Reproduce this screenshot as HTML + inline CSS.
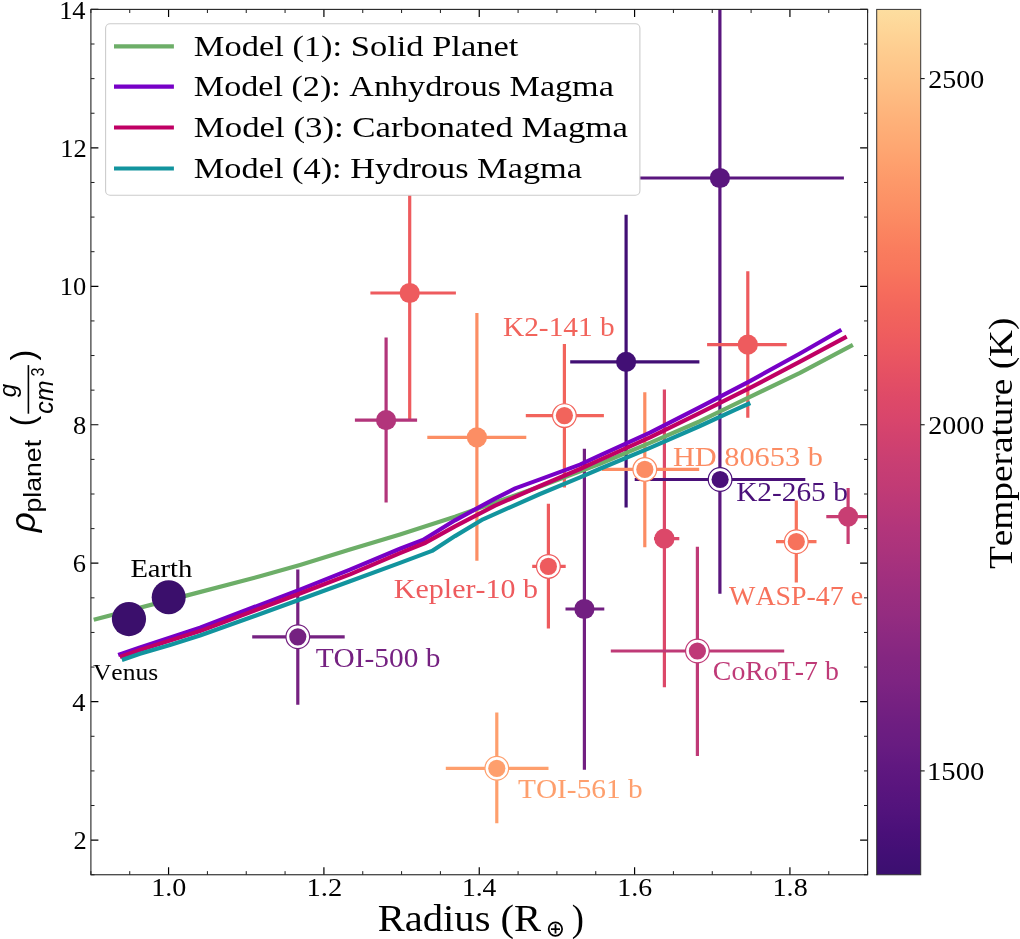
<!DOCTYPE html>
<html><head><meta charset="utf-8"><style>html,body{margin:0;padding:0;background:#fff;} text{font-kerning:none;}</style></head>
<body>
<svg width="1020" height="939" viewBox="0 0 1020 939" style="display:block;will-change:transform">
<rect width="1020" height="939" fill="#fff"/>
<defs><clipPath id="ax"><rect x="90.9" y="9.4" width="776.7" height="865.35"/></clipPath>
<linearGradient id="cb" x1="0" y1="0" x2="0" y2="1"><stop offset="0.0000" stop-color="#fddea0"/><stop offset="0.0250" stop-color="#fed597"/><stop offset="0.0500" stop-color="#fecc8f"/><stop offset="0.0750" stop-color="#fec488"/><stop offset="0.1000" stop-color="#febb81"/><stop offset="0.1250" stop-color="#feb27a"/><stop offset="0.1500" stop-color="#feaa74"/><stop offset="0.1750" stop-color="#fea16e"/><stop offset="0.2000" stop-color="#fd9869"/><stop offset="0.2250" stop-color="#fc9065"/><stop offset="0.2500" stop-color="#fb8761"/><stop offset="0.2750" stop-color="#fa7d5e"/><stop offset="0.3000" stop-color="#f8765c"/><stop offset="0.3250" stop-color="#f66c5c"/><stop offset="0.3500" stop-color="#f2645c"/><stop offset="0.3750" stop-color="#ef5d5e"/><stop offset="0.4000" stop-color="#ea5661"/><stop offset="0.4250" stop-color="#e44f64"/><stop offset="0.4500" stop-color="#de4968"/><stop offset="0.4750" stop-color="#d8456c"/><stop offset="0.5000" stop-color="#d0416f"/><stop offset="0.5250" stop-color="#c83e73"/><stop offset="0.5500" stop-color="#c23b75"/><stop offset="0.5750" stop-color="#ba3878"/><stop offset="0.6000" stop-color="#b2357b"/><stop offset="0.6250" stop-color="#ab337c"/><stop offset="0.6500" stop-color="#a3307e"/><stop offset="0.6750" stop-color="#9b2e7f"/><stop offset="0.7000" stop-color="#942c80"/><stop offset="0.7250" stop-color="#8c2981"/><stop offset="0.7500" stop-color="#842681"/><stop offset="0.7750" stop-color="#7e2482"/><stop offset="0.8000" stop-color="#762181"/><stop offset="0.8250" stop-color="#6e1e81"/><stop offset="0.8500" stop-color="#681c81"/><stop offset="0.8750" stop-color="#601880"/><stop offset="0.9000" stop-color="#59157e"/><stop offset="0.9250" stop-color="#52137c"/><stop offset="0.9500" stop-color="#4a1079"/><stop offset="0.9750" stop-color="#420f75"/><stop offset="1.0000" stop-color="#3b0f70"/></linearGradient></defs>
<g clip-path="url(#ax)" stroke-linecap="butt">
<path d="M370.4 293.0H455.9M409.7 150.0V419.6" stroke="#ee5b5e" stroke-width="3.2" fill="none"/>
<path d="M354.9 420.2H417.1M386.1 337.6V502.4" stroke="#b2357b" stroke-width="3.2" fill="none"/>
<path d="M427.3 437.3H526.3M476.9 312.9V560.7" stroke="#fc8e64" stroke-width="3.2" fill="none"/>
<path d="M570.2 361.8H699.4M626.1 214.7V507.6" stroke="#420f75" stroke-width="3.2" fill="none"/>
<path d="M600.0 178.0H843.9M719.9 0.0V593.8" stroke="#5a167e" stroke-width="3.2" fill="none"/>
<path d="M707.1 344.7H786.7M747.8 271.3V417.8" stroke="#ee5b5e" stroke-width="3.2" fill="none"/>
<path d="M826.3 516.6H880.0M848.1 488.1V544.0" stroke="#c83e73" stroke-width="3.2" fill="none"/>
<path d="M654.0 538.7H679.3M664.4 389.4V687.2" stroke="#dc4869" stroke-width="3.2" fill="none"/>
<path d="M565.5 609.0H604.3M584.4 448.7V769.8" stroke="#721f81" stroke-width="3.2" fill="none"/>
<path d="M252.2 636.8H344.7M297.8 569.4V704.7" stroke="#752181" stroke-width="3.2" fill="none"/>
<path d="M525.8 415.6H603.9M564.4 344.1V487.5" stroke="#f2645c" stroke-width="3.2" fill="none"/>
<path d="M602.0 469.4H699.2M644.8 392.2V547.2" stroke="#fc8c63" stroke-width="3.2" fill="none"/>
<path d="M634.7 479.5H805.3M720.1 470.0V489.0" stroke="#4a1079" stroke-width="3.2" fill="none"/>
<path d="M776.0 541.7H816.5M796.3 500.6V582.4" stroke="#f7725c" stroke-width="3.2" fill="none"/>
<path d="M532.2 566.4H565.7M548.4 503.8V628.4" stroke="#ee5b5e" stroke-width="3.2" fill="none"/>
<path d="M610.8 651.0H784.2M697.4 546.7V756.0" stroke="#bf3a77" stroke-width="3.2" fill="none"/>
<path d="M445.8 768.3H548.5M496.8 712.4V823.3" stroke="#fe9f6d" stroke-width="3.2" fill="none"/>
<path d="M93.7 619.8 L186.3 595.6 L260.0 576.3 L300.0 564.9 L350.0 549.6 L400.0 534.4 L455.0 516.7 L540.0 486.6 L600.0 463.7 L650.0 442.9 L700.0 421.2 L750.0 396.9 L800.0 372.8 L852.9 344.8" stroke="#6dae68" stroke-width="4.2" fill="none" stroke-linejoin="round"/>
<path d="M118.2 655.1 L140.0 647.4 L200.0 627.7 L300.0 589.6 L350.0 569.6 L400.0 548.8 L422.9 540.0 L455.0 520.3 L495.0 498.6 L515.2 488.4 L540.0 479.4 L580.0 464.6 L600.0 455.4 L650.0 432.7 L700.0 407.1 L750.0 381.1 L800.0 353.5 L841.4 329.7" stroke="#7700c7" stroke-width="4.2" fill="none" stroke-linejoin="round"/>
<path d="M119.9 656.9 L140.0 650.0 L200.0 631.1 L300.0 593.5 L350.0 574.4 L400.0 553.1 L425.6 542.7 L455.0 526.3 L495.0 505.6 L540.0 486.0 L580.0 469.0 L600.0 459.9 L650.0 437.4 L700.0 412.8 L750.0 387.9 L800.0 361.7 L846.7 336.7" stroke="#c00064" stroke-width="4.2" fill="none" stroke-linejoin="round"/>
<path d="M121.9 659.9 L140.0 653.8 L170.0 644.9 L200.0 635.6 L300.0 599.6 L350.0 581.3 L400.0 562.9 L432.0 550.9 L455.0 536.1 L483.0 519.3 L540.0 494.0 L580.0 477.4 L600.0 468.8 L650.0 447.9 L700.0 426.0 L735.0 409.9 L750.3 403.0" stroke="#12949e" stroke-width="4.2" fill="none" stroke-linejoin="round"/>
<circle cx="409.7" cy="293.0" r="10.1" fill="#ee5b5e"/>
<circle cx="386.1" cy="420.2" r="10.1" fill="#b2357b"/>
<circle cx="476.9" cy="437.3" r="10.1" fill="#fc8e64"/>
<circle cx="626.1" cy="361.8" r="10.1" fill="#420f75"/>
<circle cx="719.9" cy="178.0" r="10.1" fill="#5a167e"/>
<circle cx="747.8" cy="344.7" r="10.1" fill="#ee5b5e"/>
<circle cx="848.1" cy="516.6" r="10.1" fill="#c83e73"/>
<circle cx="664.4" cy="538.7" r="10.1" fill="#dc4869"/>
<circle cx="584.4" cy="609.0" r="10.1" fill="#721f81"/>
<circle cx="297.8" cy="636.8" r="11.85" fill="#fff" stroke="#752181" stroke-width="1.2"/>
<circle cx="297.8" cy="636.8" r="8.6" fill="#752181"/>
<circle cx="564.4" cy="415.6" r="11.85" fill="#fff" stroke="#f2645c" stroke-width="1.2"/>
<circle cx="564.4" cy="415.6" r="8.6" fill="#f2645c"/>
<circle cx="644.8" cy="469.4" r="11.85" fill="#fff" stroke="#fc8c63" stroke-width="1.2"/>
<circle cx="644.8" cy="469.4" r="8.6" fill="#fc8c63"/>
<circle cx="720.1" cy="479.5" r="11.85" fill="#fff" stroke="#4a1079" stroke-width="1.2"/>
<circle cx="720.1" cy="479.5" r="8.6" fill="#4a1079"/>
<circle cx="796.3" cy="541.7" r="11.85" fill="#fff" stroke="#f7725c" stroke-width="1.2"/>
<circle cx="796.3" cy="541.7" r="8.6" fill="#f7725c"/>
<circle cx="548.4" cy="566.4" r="11.85" fill="#fff" stroke="#ee5b5e" stroke-width="1.2"/>
<circle cx="548.4" cy="566.4" r="8.6" fill="#ee5b5e"/>
<circle cx="697.4" cy="651.0" r="11.85" fill="#fff" stroke="#bf3a77" stroke-width="1.2"/>
<circle cx="697.4" cy="651.0" r="8.6" fill="#bf3a77"/>
<circle cx="496.8" cy="768.3" r="11.85" fill="#fff" stroke="#fe9f6d" stroke-width="1.2"/>
<circle cx="496.8" cy="768.3" r="8.6" fill="#fe9f6d"/>
<circle cx="128.95" cy="619.05" r="17.1" fill="#3b0f6c"/>
<circle cx="168.7" cy="597.3" r="17.0" fill="#3b0f6c"/>
</g>
<text transform="translate(130.38,577.30) scale(1.1644,1)" font-family="Liberation Serif" font-size="24.59" fill="#000">Earth</text>
<text transform="translate(92.91,680.40) scale(1.0728,1)" font-family="Liberation Serif" font-size="23.82" fill="#000">Venus</text>
<text transform="translate(315.67,666.80) scale(1.0985,1)" font-family="Liberation Serif" font-size="26.73" fill="#752181">TOI-500 b</text>
<text transform="translate(502.95,335.50) scale(1.0990,1)" font-family="Liberation Serif" font-size="26.73" fill="#f2645c">K2-141 b</text>
<text transform="translate(672.93,466.10) scale(1.1346,1)" font-family="Liberation Serif" font-size="26.73" fill="#fc8c63">HD 80653 b</text>
<text transform="translate(736.15,500.80) scale(1.0980,1)" font-family="Liberation Serif" font-size="26.73" fill="#4a1079">K2-265 b</text>
<text transform="translate(729.07,604.50) scale(1.0442,1)" font-family="Liberation Serif" font-size="26.73" fill="#f7725c">WASP-47 e</text>
<text transform="translate(712.86,680.30) scale(1.0529,1)" font-family="Liberation Serif" font-size="26.43" fill="#bf3a77">CoRoT-7 b</text>
<text transform="translate(517.97,798.30) scale(1.0985,1)" font-family="Liberation Serif" font-size="26.73" fill="#fe9f6d">TOI-561 b</text>
<text transform="translate(393.73,597.80) scale(1.1248,1)" font-family="Liberation Serif" font-size="26.73" fill="#ee5b5e">Kepler-10 b</text>
<rect x="105.6" y="23.8" width="534.3" height="171.4" rx="4.5" fill="#fff" stroke="#cccccc" stroke-width="1.1"/>
<path d="M114 46.3H173.9" stroke="#6dae68" stroke-width="4.2"/>
<text transform="translate(193.81,55.70) scale(1.1343,1)" font-family="Liberation Serif" font-size="30.39" fill="#000">Model (1): Solid Planet</text>
<path d="M114 86.7H173.9" stroke="#7700c7" stroke-width="4.2"/>
<text transform="translate(193.82,96.20) scale(1.1236,1)" font-family="Liberation Serif" font-size="30.39" fill="#000">Model (2): Anhydrous Magma</text>
<path d="M114 127.5H173.9" stroke="#c00064" stroke-width="4.2"/>
<text transform="translate(193.80,137.00) scale(1.1458,1)" font-family="Liberation Serif" font-size="30.39" fill="#000">Model (3): Carbonated Magma</text>
<path d="M114 168.5H173.9" stroke="#12949e" stroke-width="4.2"/>
<text transform="translate(193.81,178.00) scale(1.1305,1)" font-family="Liberation Serif" font-size="30.39" fill="#000">Model (4): Hydrous Magma</text>
<path d="M90.9 840.14h7.5M867.6 840.14h-7.5M90.9 701.68h7.5M867.6 701.68h-7.5M90.9 563.22h7.5M867.6 563.22h-7.5M90.9 424.77h7.5M867.6 424.77h-7.5M90.9 286.31h7.5M867.6 286.31h-7.5M90.9 147.86h7.5M867.6 147.86h-7.5M90.9 9.40h7.5M867.6 9.40h-7.5M168.57 874.75v-7.5M168.57 9.4v7.5M323.91 874.75v-7.5M323.91 9.4v7.5M479.25 874.75v-7.5M479.25 9.4v7.5M634.59 874.75v-7.5M634.59 9.4v7.5M789.93 874.75v-7.5M789.93 9.4v7.5" stroke="#000" stroke-width="1.2" fill="none"/>
<path d="M90.9 874.75h3.6M867.6 874.75h-3.6M90.9 805.52h3.6M867.6 805.52h-3.6M90.9 770.91h3.6M867.6 770.91h-3.6M90.9 736.29h3.6M867.6 736.29h-3.6M90.9 667.07h3.6M867.6 667.07h-3.6M90.9 632.45h3.6M867.6 632.45h-3.6M90.9 597.84h3.6M867.6 597.84h-3.6M90.9 528.61h3.6M867.6 528.61h-3.6M90.9 494.00h3.6M867.6 494.00h-3.6M90.9 459.38h3.6M867.6 459.38h-3.6M90.9 390.15h3.6M867.6 390.15h-3.6M90.9 355.54h3.6M867.6 355.54h-3.6M90.9 320.93h3.6M867.6 320.93h-3.6M90.9 251.70h3.6M867.6 251.70h-3.6M90.9 217.08h3.6M867.6 217.08h-3.6M90.9 182.47h3.6M867.6 182.47h-3.6M90.9 113.24h3.6M867.6 113.24h-3.6M90.9 78.63h3.6M867.6 78.63h-3.6M90.9 44.01h3.6M867.6 44.01h-3.6M90.90 874.75v-3.6M90.90 9.4v3.6M129.74 874.75v-3.6M129.74 9.4v3.6M207.41 874.75v-3.6M207.41 9.4v3.6M246.24 874.75v-3.6M246.24 9.4v3.6M285.07 874.75v-3.6M285.07 9.4v3.6M362.75 874.75v-3.6M362.75 9.4v3.6M401.58 874.75v-3.6M401.58 9.4v3.6M440.42 874.75v-3.6M440.42 9.4v3.6M518.09 874.75v-3.6M518.09 9.4v3.6M556.92 874.75v-3.6M556.92 9.4v3.6M595.76 874.75v-3.6M595.76 9.4v3.6M673.42 874.75v-3.6M673.42 9.4v3.6M712.26 874.75v-3.6M712.26 9.4v3.6M751.10 874.75v-3.6M751.10 9.4v3.6M828.77 874.75v-3.6M828.77 9.4v3.6M867.60 874.75v-3.6M867.60 9.4v3.6" stroke="#000" stroke-width="0.9" fill="none"/>
<rect x="90.9" y="9.4" width="776.70" height="865.35" fill="none" stroke="#222" stroke-width="1.1"/>
<text transform="translate(73.42,849.24) scale(1.0300,1)" font-family="Liberation Serif" font-size="25.71" fill="#000">2</text>
<text transform="translate(72.37,710.78) scale(1.0300,1)" font-family="Liberation Serif" font-size="25.71" fill="#000">4</text>
<text transform="translate(72.75,572.32) scale(1.0300,1)" font-family="Liberation Serif" font-size="25.71" fill="#000">6</text>
<text transform="translate(72.97,433.87) scale(1.0300,1)" font-family="Liberation Serif" font-size="25.71" fill="#000">8</text>
<text transform="translate(59.72,295.41) scale(1.0300,1)" font-family="Liberation Serif" font-size="25.71" fill="#000">10</text>
<text transform="translate(60.18,156.96) scale(1.0300,1)" font-family="Liberation Serif" font-size="25.71" fill="#000">12</text>
<text transform="translate(59.13,18.50) scale(1.0300,1)" font-family="Liberation Serif" font-size="25.71" fill="#000">14</text>
<text transform="translate(151.20,895.90) scale(1.0934,1)" font-family="Liberation Serif" font-size="25.71" fill="#000">1.0</text>
<text transform="translate(306.50,895.90) scale(1.1102,1)" font-family="Liberation Serif" font-size="25.71" fill="#000">1.2</text>
<text transform="translate(461.93,895.90) scale(1.0719,1)" font-family="Liberation Serif" font-size="25.71" fill="#000">1.4</text>
<text transform="translate(617.24,895.90) scale(1.0853,1)" font-family="Liberation Serif" font-size="25.71" fill="#000">1.6</text>
<text transform="translate(772.56,895.90) scale(1.0934,1)" font-family="Liberation Serif" font-size="25.71" fill="#000">1.8</text>
<rect x="876.7" y="9.4" width="44.0" height="865.35" fill="url(#cb)" stroke="#333" stroke-width="1"/>
<text transform="translate(926.98,779.91) scale(1.1144,1)" font-family="Liberation Serif" font-size="25.71" fill="#000">1500</text>
<text transform="translate(928.27,433.77) scale(1.0889,1)" font-family="Liberation Serif" font-size="25.71" fill="#000">2000</text>
<text transform="translate(928.27,87.63) scale(1.0889,1)" font-family="Liberation Serif" font-size="25.71" fill="#000">2500</text>
<path d="M920.7 770.91h4M920.7 424.77h4M920.7 78.63h4" stroke="#000" stroke-width="1" fill="none"/>
<text transform="translate(1011.50,568.97) rotate(-90) scale(1.1198,1)" font-family="Liberation Serif" font-size="33.29" fill="#000">Temperature (K)</text>
<text transform="translate(377.63,931.20) scale(1.0769,1)" font-family="Liberation Serif" font-size="37.72" fill="#000">Radius (R</text>
<g stroke="#000" fill="none"><circle cx="555.4" cy="929.1" r="6.75" stroke-width="1.7"/><path d="M551 929.1H560M555.5 924.2V933.6" stroke-width="1.8"/></g>
<text transform="translate(571.82,931.20) scale(0.9702,1)" font-family="Liberation Serif" font-size="37.72" fill="#000">)</text>
<text transform="translate(35.02,532.24) rotate(-90) scale(1.0153,1)" font-family="Liberation Sans" font-style="italic" font-size="34.60" fill="#000">ρ</text>
<text transform="translate(40.74,512.62) rotate(-90) scale(1.1171,1)" font-family="Liberation Sans" font-size="23.92" fill="#000">planet</text>
<text transform="translate(33.74,426.14) rotate(-90) scale(0.9594,1)" font-family="Liberation Sans" font-size="32.63" fill="#000">(</text>
<text transform="translate(33.74,360.39) rotate(-90) scale(0.9825,1)" font-family="Liberation Sans" font-size="32.63" fill="#000">)</text>
<path d="M28.4 365.1V413.7" stroke="#000" stroke-width="1.6"/>
<text transform="translate(15.81,397.15) rotate(-90) scale(0.9998,1)" font-family="Liberation Sans" font-style="italic" font-size="24.02" fill="#000">g</text>
<text transform="translate(52.76,413.82) rotate(-90) scale(0.9982,1)" font-family="Liberation Sans" font-style="italic" font-size="25.01" fill="#000">cm</text>
<text transform="translate(43.82,376.62) rotate(-90) scale(0.8983,1)" font-family="Liberation Sans" font-size="18.08" fill="#000">3</text>
</svg>
</body></html>
